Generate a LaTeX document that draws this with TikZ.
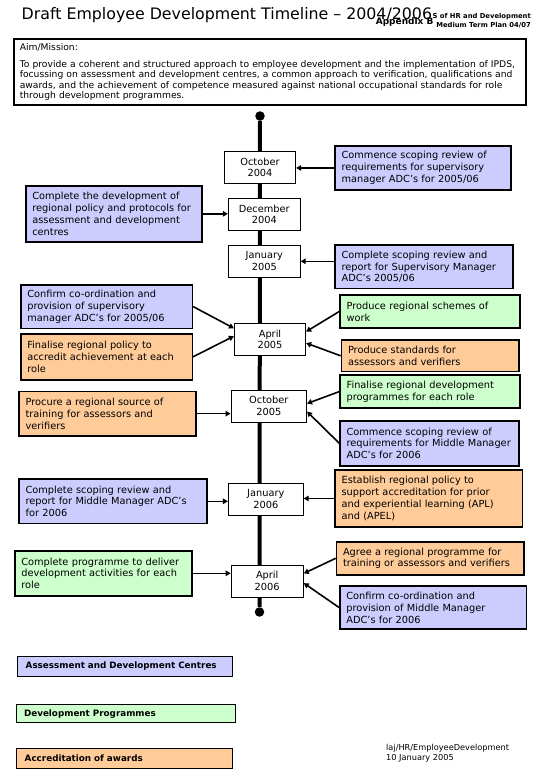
\documentclass[tikz,border=0pt]{standalone}
\usepackage{fontspec}
\setmainfont{DejaVu Sans}
\usetikzlibrary{arrows.meta}
\definecolor{ADCBlue}{RGB}{204,204,255}
\definecolor{DevGreen}{RGB}{204,255,204}
\definecolor{AwardOrange}{RGB}{255,204,153}
\newcommand{\evfont}{\fontsize{9.8}{11.9}\selectfont}

\begin{document}
\begin{tikzpicture}[x=1pt,y=-1pt,
evt/.style n args={3}{draw,line width=1.6pt,fill=#1,text width=#2,minimum height=#3,inner xsep=6.5pt,inner ysep=2pt,align=left,anchor=north west,font=\evfont},
datebox/.style={draw,line width=0.8pt,fill=white,minimum width=#1,minimum height=32pt,inner sep=1pt,align=center,font=\evfont},
key/.style n args={3}{draw,line width=0.8pt,fill=#1,text width=#2,minimum height=#3,inner xsep=8pt,align=left,anchor=north west,font=\fontsize{8.8}{10}\selectfont\bfseries},
arr/.style={-{Triangle[length=5pt,width=5.5pt]},line width=1.6pt},
dot/.style={circle,fill,inner sep=0pt,minimum size=9.5pt}]
\useasboundingbox (0,0) rectangle (540,780);
\fill[white] (0,0) rectangle (540,780);
% heading
\node[anchor=base west,inner sep=0pt,font=\fontsize{15.8}{18}\selectfont] (title) at (21.5,19) {Draft Employee Development Timeline – 2004/2006};
\node[anchor=base west,inner sep=0pt,font=\fontsize{9}{10}\selectfont\bfseries] (appx) at (375.6,24) {Appendix B};
\node[anchor=base east,inner sep=0pt,font=\fontsize{6.8}{8}\selectfont\bfseries] (plan1) at (531,18) {S of HR and Development};
\node[anchor=base east,inner sep=0pt,font=\fontsize{6.8}{8}\selectfont\bfseries] (plan2) at (531,27.5) {Medium Term Plan 04/07};
\node[draw,line width=1.6pt,anchor=north west,text width=500pt,minimum height=66pt,inner xsep=6pt,align=left,font=\fontsize{9.2}{10.2}\selectfont] (aim) at (13,38)
   {Aim/Mission:\\[7pt]To provide a coherent and structured approach to employee development and the implementation of IPDS,\\
   focussing on assessment and development centres, a common approach to verification, qualifications and\\
   awards, and the achievement of competence measured against national occupational standards for role\\
   through development programmes.};
% timeline
\node[dot] (tl-top) at (260,116) {};
\node[dot] (tl-end) at (259.5,612) {};
\draw[line width=4pt] (tl-top) -- (tl-end);
\foreach \n/\x/\y/\w/\t in %
{d1/260/167.3/71.4pt/{October\\2004},d2/264.3/214.3/72pt/{December\\2004},d3/264.3/261.3/72pt/{January\\2005},
 d4/270/339.3/71.4pt/{April\\2005},d5/268.8/406.2/75.7pt/{October\\2005},d6/265.8/499.2/75pt/{January\\2006},
 d7/267.2/581.2/72.3pt/{April\\2006}} {
   \node[datebox=\w] (\n) at (\x,\y) {\t};
}
% left column
\node[evt={ADCBlue}{163pt}{56pt}] (l1) at (25,185) {Complete the development of\\regional policy and protocols for\\assessment and development\\centres};
\node[evt={ADCBlue}{158.5pt}{43.5pt}] (l2) at (20,284) {Confirm co-ordination and\\provision of supervisory\\manager ADC’s for 2005/06};
\node[evt={AwardOrange}{158.5pt}{46pt}] (l3) at (20,333) {Finalise regional policy to\\accredit achievement at each\\role};
\node[evt={AwardOrange}{163.7pt}{44.3pt}] (l4) at (18.3,390.7) {Procure a regional source of\\training for assessors and\\verifiers};
\node[evt={ADCBlue}{174.7pt}{44.4pt}] (l5) at (18.3,478.3) {Complete scoping review and\\report for Middle Manager ADC’s\\for 2006};
\node[evt={DevGreen}{164pt}{45pt}] (l6) at (14,550) {Complete programme to deliver\\development activities for each\\role};
% right column
\node[evt={ADCBlue}{162.7pt}{44.3pt}] (r1) at (334.3,145) {Commence scoping review of\\requirements for supervisory\\manager ADC’s for 2005/06};
\node[evt={ADCBlue}{165pt}{43.4pt}] (r2) at (334.3,244.3) {Complete scoping review and\\report for Supervisory Manager\\ADC’s 2005/06};
\node[evt={DevGreen}{167pt}{33.3pt}] (r3) at (339.3,294) {Produce regional schemes of\\work};
\node[evt={AwardOrange}{164.6pt}{31.4pt}] (r4) at (340.7,339.3) {Produce standards for\\assessors and verifiers};
\node[evt={DevGreen}{167pt}{33pt}] (r5) at (339.3,374.3) {Finalise regional development\\programmes for each role};
\node[evt={ADCBlue}{166pt}{45pt}] (r6) at (339.3,420) {Commence scoping review of\\requirements for Middle Manager\\ADC’s for 2006};
\node[evt={AwardOrange}{174.4pt}{56.7pt}] (r7) at (334.3,469.3) {Establish regional policy to\\support accreditation for prior\\and experiential learning (APL)\\and (APEL)};
\node[evt={AwardOrange}{174.6pt}{33pt}] (r8) at (335.7,541) {Agree a regional programme for\\training or assessors and verifiers};
\node[evt={ADCBlue}{173.7pt}{43.3pt}] (r9) at (339,585) {Confirm co-ordination and\\provision of Middle Manager\\ADC’s for 2006};
% connectors
\draw[arr] (r1.west) -- (r1.west -| d1.east);
\draw[arr] (l1.east) -- (l1.east -| d2.west);
\draw[arr] (d3.east -| r2.west) -- (d3.east);
\draw[arr] (l2.east) -- (d4.163);
\draw[arr] (l3.east) -- (d4.175);
\draw[arr] (r3.west) -- (d4.12);
\draw[arr] (r4.west) -- (d4.-6);
\draw[arr] (l4.east) -- (l4.east -| d5.west);
\draw[arr] (r5.west) -- (d5.4);
\draw[arr] (r6.west) -- (d5.-8);
\draw[arr] (l5.east) -- (l5.east -| d6.west);
\draw[arr] (r7.west) -- (r7.west -| d6.east);
\draw[arr] (l6.east) -- (l6.east -| d7.west);
\draw[arr] (r8.west) -- (d7.12);
\draw[arr] (r9.west) -- (d7.-3);
% key
\node[key={ADCBlue}{199pt}{20pt}] (k1) at (17.3,655.6) {Assessment and Development Centres};
\node[key={DevGreen}{203pt}{18.4pt}] (k2) at (15.6,704) {Development Programmes};
\node[key={AwardOrange}{200pt}{19.6pt}] (k3) at (16.3,748.4) {Accreditation of awards};
\node[anchor=west,align=left,inner sep=0pt,font=\fontsize{8.2}{9.8}\selectfont] (foot) at (386,753.5) {laj/HR/EmployeeDevelopment\\10 January 2005};
\end{tikzpicture}
\end{document}
